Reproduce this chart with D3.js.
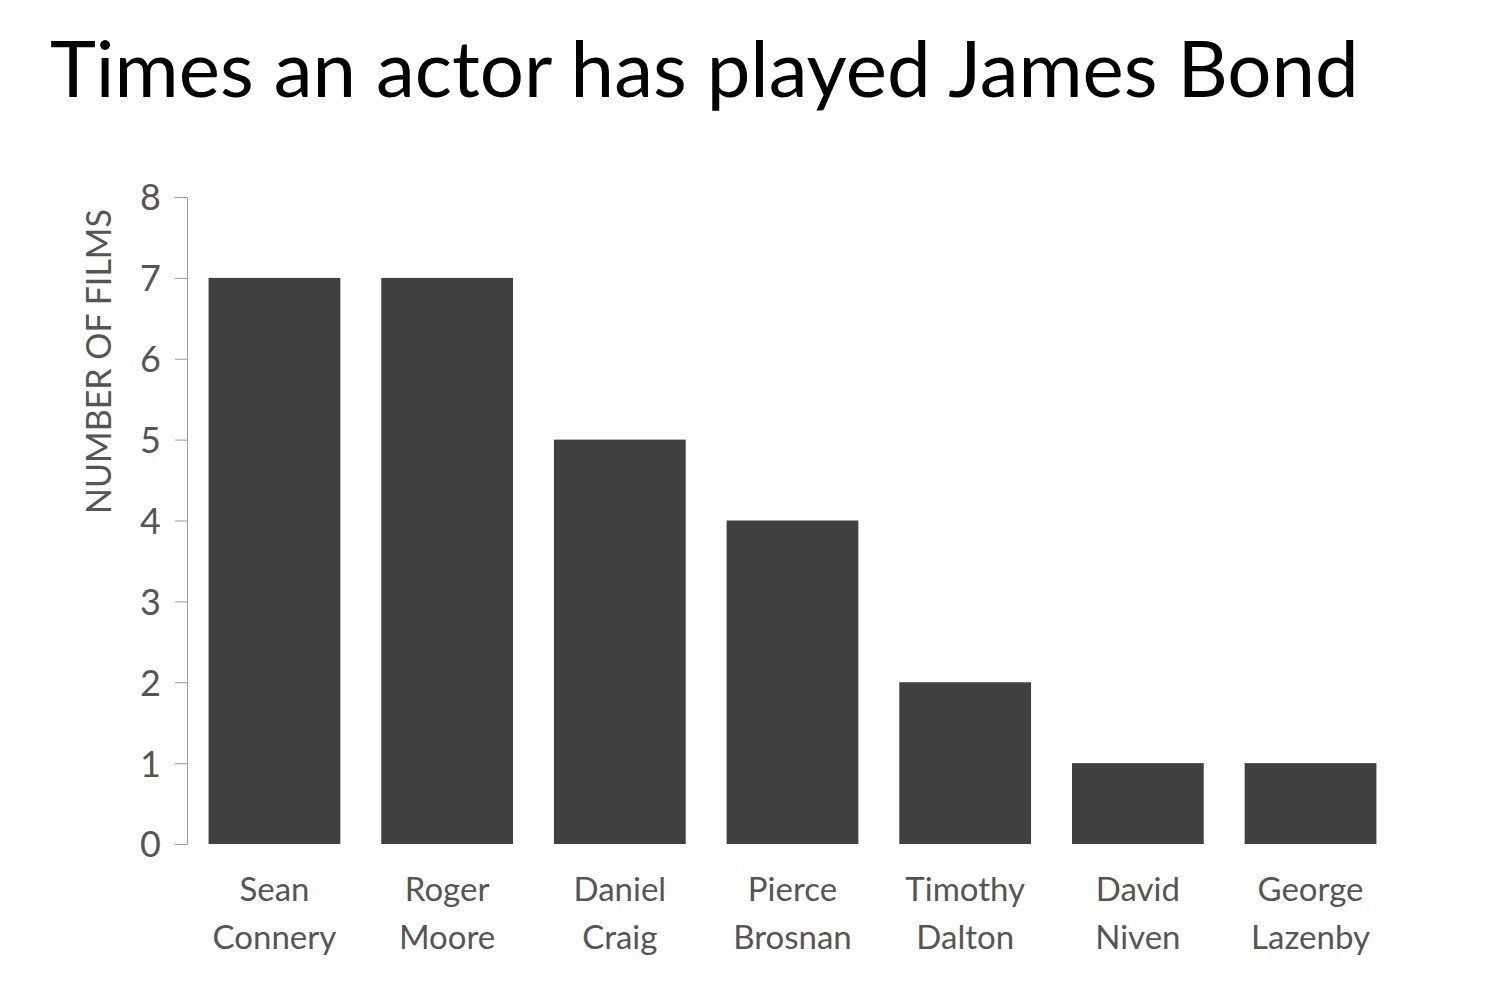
<!DOCTYPE html>
<html>
<head>
<meta charset="utf-8">
<script src="https://cdn.jsdelivr.net/npm/d3@7"></script>
<style>
  body { margin: 0; background: #fff; }
  text { font-family: Lato, "Noto Sans", sans-serif; }
</style>
</head>
<body>
<div id="chart"></div>
<script>
// data
const actors = [["Sean", "Connery"], ["Roger", "Moore"], ["Daniel", "Craig"], ["Pierce", "Brosnan"],
                ["Timothy", "Dalton"], ["David", "Niven"], ["George", "Lazenby"]];
const films = [7, 7, 5, 4, 2, 1, 1];
const yTicks = [0, 1, 2, 3, 4, 5, 6, 7, 8];

const W = 1500, H = 1003;
const margin = {top: 197, right: 102, bottom: 159, left: 187};
const width = W - margin.left - margin.right;
const height = H - margin.top - margin.bottom;

const svg = d3.select("#chart").append("svg")
    .attr("width", W)
    .attr("height", H);

svg.append("text")
    .attr("x", 50)
    .attr("y", 97)
    .style("font-size", "78px")
    .style("fill", "#000")
    .text("Times an actor has played James Bond");

const g = svg.append("g")
    .attr("transform", "translate(" + margin.left + "," + margin.top + ")");

const x = d3.scaleBand()
    .domain(actors.map(d => d.join(" ")))
    .range([0, width])
    .paddingInner(0.237)
    .paddingOuter(0.125);

const y = d3.scaleLinear()
    .domain([0, 8])
    .range([height, 0]);

g.selectAll("rect")
    .data(films)
    .enter().append("rect")
    .attr("x", (d, i) => x(actors[i].join(" ")))
    .attr("y", d => y(d))
    .attr("width", x.bandwidth())
    .attr("height", d => height - y(d))
    .style("fill", "#404040");

// y axis
const yAxis = g.append("g")
    .call(d3.axisLeft(y).tickValues(yTicks).tickSize(12).tickPadding(14).tickSizeOuter(0));
yAxis.select(".domain").attr("stroke", "#999");
yAxis.selectAll(".tick line").attr("stroke", "#999");
yAxis.selectAll(".tick text")
    .style("font-size", "36px")
    .style("fill", "#555")
    .attr("dy", "0.36em");

g.append("text")
    .attr("transform", "rotate(-90)")
    .attr("x", -height / 2 + 159)
    .attr("y", -88)
    .attr("dy", "0.36em")
    .style("text-anchor", "middle")
    .style("font-size", "34px")
    .style("fill", "#555")
    .text("NUMBER OF FILMS");

// category labels
const labels = g.selectAll(".cat")
    .data(actors)
    .enter().append("text")
    .attr("class", "cat")
    .attr("transform", d => "translate(" + (x(d.join(" ")) + x.bandwidth() / 2) + "," + (height + 57) + ")")
    .style("text-anchor", "middle")
    .style("font-size", "33px")
    .style("fill", "#555");
labels.append("tspan").attr("x", 0).attr("y", 0).text(d => d[0]);
labels.append("tspan").attr("x", 0).attr("y", 48).text(d => d[1]);
</script>
</body>
</html>
